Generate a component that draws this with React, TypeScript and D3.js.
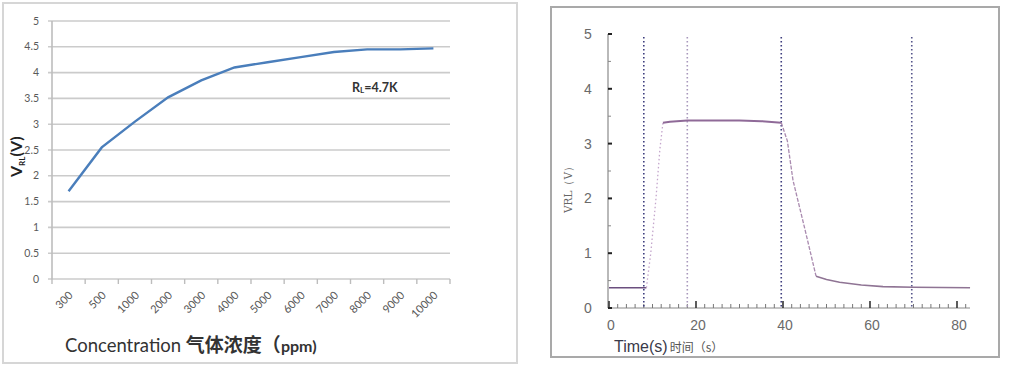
import React from 'react';
import * as d3 from 'd3';

// left chart: output voltage vs gas concentration
const concLabels = ['300', '500', '1000', '2000', '3000', '4000', '5000', '6000', '7000', '8000', '9000', '10000'];
const vrlValues = [1.7, 2.55, 3.05, 3.52, 3.85, 4.1, 4.2, 4.3, 4.4, 4.45, 4.45, 4.47];
const leftYTicks = [0, 0.5, 1, 1.5, 2, 2.5, 3, 3.5, 4, 4.5, 5];

// right chart: response over time
const riseBase = [[0, 0.37], [8.6, 0.37]];
const riseEdge = [[8.6, 0.37], [9.6, 1.0], [10.8, 2.0], [11.7, 2.9], [12.4, 3.38]];
const plateau = [[12.4, 3.38], [14, 3.4], [18, 3.42], [30, 3.42], [35, 3.41], [39.6, 3.38]];
const fallEdge = [[39.6, 3.38], [41, 3.05], [42.3, 2.33], [45, 1.45], [47.6, 0.58]];
const recovery = [[47.6, 0.58], [50, 0.52], [53, 0.47], [58, 0.42], [63, 0.39], [70, 0.38], [83, 0.37]];
const markerTimes = [8, 18, 39.6, 69.6];
const markerColors = ['#3d3d7e', '#a898bc', '#3d3d7e', '#55558a'];
const rightXTicks = [0, 20, 40, 60, 80];
const rightYTicks = [0, 1, 2, 3, 4, 5];

const LeftChart = () => {
  const x = d3.scaleBand().domain(concLabels).range([52, 450]);
  const y = d3.scaleLinear().domain([0, 5]).range([279, 21]);
  const line = d3.line<number>()
    .x((_, i) => (x(concLabels[i]) as number) + x.bandwidth() / 2)
    .y((d) => y(d));
  const font = 'Lato, "DejaVu Sans", sans-serif';
  return (
    <g>
      <rect x={3} y={3} width={514} height={360} fill="#fff" stroke="#d6d6d6" strokeWidth={2} />
      {leftYTicks.map((t) => (
        <g key={t}>
          <line x1={48} x2={450} y1={y(t)} y2={y(t)} stroke="#cbcbcb" strokeWidth={1.6} />
          <text x={39} y={y(t) + 3.5} textAnchor="end" fontSize={10.5} fill="#5a5a5a" fontFamily={font}>{t}</text>
        </g>
      ))}
      <line x1={52} x2={52} y1={21} y2={279} stroke="#bdbdbd" strokeWidth={1.6} />
      {concLabels.map((c) => (
        <line key={'t' + c} x1={x(c) as number} x2={x(c) as number} y1={279} y2={284} stroke="#bdbdbd" strokeWidth={1.4} />
      ))}
      <line x1={450} x2={450} y1={279} y2={284} stroke="#bdbdbd" strokeWidth={1.4} />
      {concLabels.map((c) => {
        const cx = (x(c) as number) + x.bandwidth() / 2;
        return (
          <text key={c} transform={`translate(${cx + 5},${296}) rotate(-45)`} textAnchor="end"
            fontSize={11} fill="#555" fontFamily={font}>{c}</text>
        );
      })}
      <path d={line(vrlValues) as string} fill="none" stroke="#4a7ebb" strokeWidth={2.4} />
      <text x={352} y={92} fontSize={12.5} fontWeight="bold" fill="#333" fontFamily={font}>
        R<tspan fontSize={8} dy={1}>L</tspan><tspan dy={-1}>=4.7K</tspan>
      </text>
      <text x={65} y={352} fontSize={18.5} fill="#333" fontFamily={font}>
        Concentration <tspan fontFamily='"Noto Sans CJK SC", sans-serif' fontWeight="bold" fontSize={19}>气体浓度（</tspan><tspan fontSize={16} fontWeight="bold">ppm)</tspan>
      </text>
      <text transform="translate(22,177) rotate(-90)" fontSize={16} fontWeight="bold" fill="#222" fontFamily={font}>
        V<tspan fontSize={8} dy={3}>RL</tspan><tspan dy={-3}>(V)</tspan>
      </text>
    </g>
  );
};

const RightChart = () => {
  const x = d3.scaleLinear().domain([0, 80]).range([609, 957]);
  const y = d3.scaleLinear().domain([0, 5]).range([308, 34]);
  const line = d3.line<number[]>().x((d) => x(d[0])).y((d) => y(d[1]));
  const font = '"Liberation Sans", Arial, sans-serif';
  const minorX = d3.range(0, 84, 2);
  const minorY = d3.range(0, 5.01, 0.5);
  return (
    <g>
      <rect x={551} y={7} width={448} height={350} fill="#fff" stroke="#a9a9a9" strokeWidth={2} />
      <line x1={608} x2={608} y1={34} y2={308} stroke="#8a8a8a" strokeWidth={1.2} />
      <line x1={608} x2={x(83)} y1={308} y2={308} stroke="#8a8a8a" strokeWidth={1.2} />
      {minorX.map((t) => (
        <line key={'mx' + t} x1={x(t)} x2={x(t)} y1={308} y2={t % 20 === 0 ? 301 : 304}
          stroke={t % 20 === 0 ? '#333' : '#777'} strokeWidth={t % 20 === 0 ? 1.6 : 1} />
      ))}
      {minorY.map((t) => (
        <line key={'my' + t} x1={608} x2={Number.isInteger(t) ? 612 : 611} y1={y(t)} y2={y(t)}
          stroke={Number.isInteger(t) ? '#222' : '#888'} strokeWidth={Number.isInteger(t) ? 2 : 1} />
      ))}
      {rightYTicks.map((t) => (
        <text key={'ly' + t} x={588} y={y(t) + 5} textAnchor="middle" fontSize={14} fill="#6a6a6a" fontFamily={font}>{t}</text>
      ))}
      {rightXTicks.map((t) => (
        <text key={'lx' + t} x={x(t) + 2} y={330} textAnchor="middle" fontSize={14} fill="#6a6a6a" fontFamily={font}>{t}</text>
      ))}
      {markerTimes.map((t, i) => (
        <line key={'v' + t} x1={x(t)} x2={x(t)} y1={37} y2={308} stroke={markerColors[i]}
          strokeWidth={1.6} strokeDasharray="1.6,2.4" />
      ))}
      <path d={line(riseBase) as string} fill="none" stroke="#6b4f7f" strokeWidth={1.6} />
      <path d={line(riseEdge) as string} fill="none" stroke="#c4a6cc" strokeWidth={1.3} strokeDasharray="1.5,2.5" />
      <path d={line(plateau) as string} fill="none" stroke="#8f6a98" strokeWidth={2} />
      <path d={line(fallEdge) as string} fill="none" stroke="#a98aaf" strokeWidth={1.3} strokeDasharray="4,1.5" />
      <path d={line(recovery) as string} fill="none" stroke="#8f7494" strokeWidth={1.6} />
      <text x={614} y={352} fontSize={16} fill="#3a3a4a" fontFamily={font}>
        Time(s)<tspan fontFamily='"Noto Sans CJK SC", sans-serif' fontSize={12} fill="#555" dx={2}>时间（s）</tspan>
      </text>
      <text transform="translate(572,213) rotate(-90)" fontSize={10.5} fill="#666" fontFamily='"DejaVu Serif", serif'>
        VRL（V）
      </text>
    </g>
  );
};

const App = () => (
  <svg width={1024} height={374} style={{ position: 'absolute', left: 0, top: 0, background: '#fff' }}>
    <LeftChart />
    <RightChart />
  </svg>
);

export default App;
